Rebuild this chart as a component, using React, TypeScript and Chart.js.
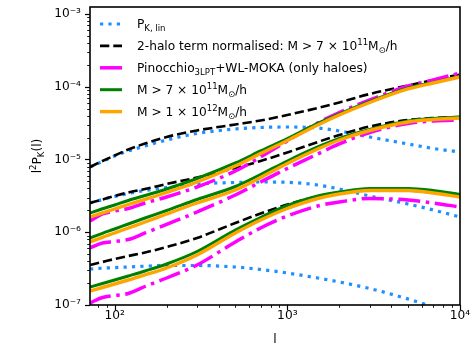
import React, { useEffect, useRef } from 'react';
import { Chart, registerables } from 'chart.js';
Chart.register(...registerables);

// multipole l
const ell = [72, 85, 100, 120, 150, 200, 300, 500, 700, 1000, 1500, 2000, 3000, 5000, 7000, 10000];

// linear convergence power spectrum (three source bins)
const pLin1 = [7.886e-6, 9.386e-6, 1.117e-5, 1.309e-5, 1.533e-5, 1.854e-5, 2.277e-5, 2.626e-5, 2.754e-5, 2.797e-5, 2.71e-5, 2.465e-5, 2.038e-5, 1.634e-5, 1.416e-5, 1.268e-5];
const pLin2 = [2.524e-6, 2.819e-6, 3.099e-6, 3.409e-6, 3.749e-6, 4.122e-6, 4.605e-6, 4.829e-6, 4.906e-6, 4.86e-6, 4.462e-6, 3.931e-6, 3.149e-6, 2.445e-6, 2.022e-6, 1.621e-6];
const pLin3 = [3.125e-7, 3.205e-7, 3.267e-7, 3.33e-7, 3.415e-7, 3.491e-7, 3.491e-7, 3.33e-7, 3.076e-7, 2.754e-7, 2.35e-7, 2.071e-7, 1.686e-7, 1.209e-7, 9.386e-8, 7.062e-8];

// 2-halo term normalised
const twoHalo1 = [7.886e-6, 9.537e-6, 1.135e-5, 1.372e-5, 1.659e-5, 2.038e-5, 2.504e-5, 3.028e-5, 3.437e-5, 4.09e-5, 5.104e-5, 6.074e-5, 7.948e-5, 1.04e-4, 1.238e-4, 1.474e-4];
const twoHalo2 = [2.524e-6, 2.819e-6, 3.149e-6, 3.519e-6, 3.931e-6, 4.605e-6, 5.657e-6, 7.641e-6, 9.537e-6, 1.248e-5, 1.74e-5, 2.172e-5, 2.841e-5, 3.491e-5, 3.719e-5, 3.839e-5];
const twoHalo3 = [3.546e-7, 3.9e-7, 4.289e-7, 4.716e-7, 5.267e-7, 6.27e-7, 8.337e-7, 1.34e-6, 1.81e-6, 2.406e-6, 3.099e-6, 3.463e-6, 3.809e-6, 3.749e-6, 3.519e-6, 3.099e-6];

// Pinocchio 3LPT + WL-MOKA (only haloes)
const pino1 = [1.427e-6, 1.782e-6, 1.96e-6, 2.121e-6, 2.524e-6, 3.051e-6, 4.188e-6, 6.948e-6, 1.082e-5, 1.796e-5, 3.174e-5, 4.426e-5, 6.574e-5, 1.024e-4, 1.238e-4, 1.545e-4];
const pino2 = [6.074e-7, 7.114e-7, 7.462e-7, 7.948e-7, 9.766e-7, 1.278e-6, 1.898e-6, 3.251e-6, 4.906e-6, 7.52e-6, 1.19e-5, 1.634e-5, 2.35e-5, 3.125e-5, 3.382e-5, 3.491e-5];
const pino3 = [1.065e-7, 1.268e-7, 1.351e-7, 1.439e-7, 1.796e-7, 2.35e-7, 3.546e-7, 7.345e-7, 1.144e-6, 1.673e-6, 2.295e-6, 2.605e-6, 2.91e-6, 2.775e-6, 2.524e-6, 2.224e-6];

// M > 7e11 Msun/h
const m7e11_1 = [1.839e-6, 2.1e-6, 2.369e-6, 2.732e-6, 3.2e-6, 3.931e-6, 5.48e-6, 8.952e-6, 1.309e-5, 1.944e-5, 3.125e-5, 4.221e-5, 6.27e-5, 9.612e-5, 1.144e-4, 1.383e-4];
const m7e11_2 = [8.337e-7, 9.674e-7, 1.108e-6, 1.298e-6, 1.57e-6, 1.991e-6, 2.819e-6, 4.255e-6, 6.219e-6, 9.537e-6, 1.485e-5, 1.944e-5, 2.585e-5, 3.382e-5, 3.661e-5, 3.839e-5];
const m7e11_3 = [1.768e-7, 1.975e-7, 2.206e-7, 2.504e-7, 2.934e-7, 3.661e-7, 5.437e-7, 1.074e-6, 1.595e-6, 2.332e-6, 3.149e-6, 3.575e-6, 3.994e-6, 3.994e-6, 3.749e-6, 3.303e-6];

// M > 1e12 Msun/h
const m1e12_1 = [1.621e-6, 1.851e-6, 2.087e-6, 2.406e-6, 2.819e-6, 3.519e-6, 4.906e-6, 8.14e-6, 1.209e-5, 1.825e-5, 2.98e-5, 4.09e-5, 6.074e-5, 9.314e-5, 1.126e-4, 1.361e-4];
const m1e12_2 = [7.345e-7, 8.524e-7, 9.766e-7, 1.144e-6, 1.383e-6, 1.782e-6, 2.524e-6, 3.809e-6, 5.657e-6, 8.81e-6, 1.394e-5, 1.854e-5, 2.504e-5, 3.277e-5, 3.546e-5, 3.719e-5];
const m1e12_3 = [1.557e-7, 1.74e-7, 1.944e-7, 2.206e-7, 2.585e-7, 3.226e-7, 4.867e-7, 9.766e-7, 1.474e-6, 2.121e-6, 2.91e-6, 3.356e-6, 3.749e-6, 3.749e-6, 3.463e-6, 3.051e-6];

// axis limits and tick labels
const xMin = 72;
const xMax = 10000;
const yMin = 1e-7;
const yMax = 1.247e-3;
const xTickLabels = ['10²', '10³', '10⁴'];
const yTickLabels = ['10⁻⁷', '10⁻⁶', '10⁻⁵', '10⁻⁴', '10⁻³'];

type Seg = { t: string; s?: 'sub' | 'sup' };
const legendLabels: Seg[][] = [
  [{ t: 'P' }, { t: 'K, lin', s: 'sub' }],
  [{ t: '2-halo term normalised: M > 7 × 10' }, { t: '11', s: 'sup' }, { t: 'M' }, { t: '⊙', s: 'sub' }, { t: '/h' }],
  [{ t: 'Pinocchio' }, { t: '3LPT', s: 'sub' }, { t: '+WL-MOKA (only haloes)' }],
  [{ t: 'M > 7 × 10' }, { t: '11', s: 'sup' }, { t: 'M' }, { t: '⊙', s: 'sub' }, { t: '/h' }],
  [{ t: 'M > 1 × 10' }, { t: '12', s: 'sup' }, { t: 'M' }, { t: '⊙', s: 'sub' }, { t: '/h' }],
];
const yTitle: Seg[] = [{ t: 'l' }, { t: '2', s: 'sup' }, { t: 'P' }, { t: 'K', s: 'sub' }, { t: '(l)' }];

const FONT = '"DejaVu Sans", sans-serif';
const FS = 12.2;

const STYLES = [
  { color: '#1E90FF', width: 3.2, dash: [3.2, 5.2], legendDash: [3.2, 5.2], order: 4 },
  { color: '#000000', width: 2.6, dash: [9.3, 4], legendDash: [9.3, 4], order: 3 },
  { color: '#FF00FF', width: 3.5, dash: [22, 5.6, 3.5, 5.6], legendDash: [], order: 2 },
  { color: '#008000', width: 3, dash: [], legendDash: [], order: 1 },
  { color: '#FFA500', width: 3.4, dash: [], legendDash: [], order: 0 },
];

function segFont(s: Seg, size: number) {
  return `${s.s ? size * 0.7 : size}px ${FONT}`;
}
function richWidth(ctx: CanvasRenderingContext2D, segs: Seg[], size: number) {
  let w = 0;
  for (const s of segs) {
    ctx.font = segFont(s, size);
    w += ctx.measureText(s.t).width;
  }
  return w;
}
function drawRich(ctx: CanvasRenderingContext2D, segs: Seg[], x: number, base: number, size: number) {
  let cx = x;
  ctx.textAlign = 'left';
  ctx.textBaseline = 'alphabetic';
  for (const s of segs) {
    ctx.font = segFont(s, size);
    const dy = s.s === 'sub' ? size * 0.22 : s.s === 'sup' ? -size * 0.42 : 0;
    ctx.fillText(s.t, cx, base + dy);
    cx += ctx.measureText(s.t).width;
  }
}

const decorPlugin = {
  id: 'decor',
  afterDraw(chart: any) {
    const ctx: CanvasRenderingContext2D = chart.ctx;
    const { left, right, top, bottom } = chart.chartArea;
    const xs = chart.scales.x;
    const ys = chart.scales.y;
    ctx.save();
    ctx.strokeStyle = '#000';
    // ticks
    for (let d = 1; d <= 4; d++) {
      for (let k = 1; k <= 9; k++) {
        const v = k * Math.pow(10, d);
        if (v < xMin || v > xMax * 1.0001) continue;
        const px = Math.round(xs.getPixelForValue(v)) + 0.5;
        const len = k === 1 ? 5 : 2.8;
        ctx.lineWidth = k === 1 ? 1.2 : 0.9;
        ctx.beginPath();
        ctx.moveTo(px, bottom);
        ctx.lineTo(px, bottom + len);
        ctx.stroke();
      }
    }
    for (let d = -8; d <= -3; d++) {
      for (let k = 1; k <= 9; k++) {
        const v = k * Math.pow(10, d);
        if (v < yMin * 0.9999 || v > yMax) continue;
        const py = Math.round(ys.getPixelForValue(v)) + 0.5;
        const len = k === 1 ? 5 : 2.8;
        ctx.lineWidth = k === 1 ? 1.2 : 0.9;
        ctx.beginPath();
        ctx.moveTo(left, py);
        ctx.lineTo(left - len, py);
        ctx.stroke();
      }
    }
    // frame
    ctx.lineWidth = 1.6;
    ctx.strokeRect(left, top, right - left, bottom - top);
    // y title
    ctx.fillStyle = '#000';
    ctx.save();
    ctx.translate(41, (top + bottom) / 2);
    ctx.rotate(-Math.PI / 2);
    const w = richWidth(ctx, yTitle, FS);
    drawRich(ctx, yTitle, -w / 2, 0, FS);
    ctx.restore();
    // legend
    const rowY0 = 24;
    const rowStep = 21.9;
    legendLabels.forEach((segs, i) => {
      const y = rowY0 + i * rowStep;
      const st = STYLES[i];
      ctx.save();
      ctx.strokeStyle = st.color;
      ctx.lineWidth = st.width;
      ctx.setLineDash(st.legendDash);
      ctx.lineCap = 'butt';
      ctx.beginPath();
      ctx.moveTo(100, y);
      ctx.lineTo(122, y);
      ctx.stroke();
      ctx.restore();
      ctx.fillStyle = '#000';
      drawRich(ctx, segs, 137, y + FS * 0.36, FS);
    });
    ctx.restore();
  },
};

function sup(n: number) {
  const map: Record<string, string> = { '-': '⁻', '0': '⁰', '1': '¹', '2': '²', '3': '³', '4': '⁴', '5': '⁵', '6': '⁶', '7': '⁷', '8': '⁸', '9': '⁹' };
  return String(n).split('').map((c) => map[c]).join('');
}

function zeroPad(s: any) {
  s.paddingTop = 0;
  s.paddingBottom = 0;
  s.paddingLeft = 0;
  s.paddingRight = 0;
}

export default function App() {
  const ref = useRef<HTMLCanvasElement | null>(null);
  useEffect(() => {
    if (!ref.current) return;
    const groups = [
      [pLin1, pLin2, pLin3],
      [twoHalo1, twoHalo2, twoHalo3],
      [pino1, pino2, pino3],
      [m7e11_1, m7e11_2, m7e11_3],
      [m1e12_1, m1e12_2, m1e12_3],
    ];
    const names = ['P_K,lin', '2-halo term normalised: M > 7e11 Msun/h', 'Pinocchio3LPT+WL-MOKA (only haloes)', 'M > 7e11 Msun/h', 'M > 1e12 Msun/h'];
    const datasets: any[] = [];
    groups.forEach((g, i) => {
      const st = STYLES[i];
      g.forEach((arr, j) => {
        datasets.push({
          label: `${names[i]} (${j + 1})`,
          data: ell.map((l, k) => ({ x: l, y: arr[k] })),
          borderColor: st.color,
          borderWidth: st.width,
          borderDash: st.dash,
          pointRadius: 0,
          fill: false,
          cubicInterpolationMode: 'monotone',
          order: st.order,
          clip: 0,
        });
      });
    });
    const labelCb = (labels: string[], exps: number[]) => (v: any) => {
      const e = Math.log10(Number(v));
      const r = Math.round(e);
      if (Math.abs(e - r) > 1e-6) return '';
      const idx = exps.indexOf(r);
      return idx >= 0 ? labels[idx] : '10' + sup(r);
    };
    const chart = new Chart(ref.current, {
      type: 'line',
      data: { datasets },
      plugins: [decorPlugin],
      options: {
        animation: false,
        responsive: false,
        events: [],
        layout: { padding: { top: 7, right: 14, left: 0, bottom: 0 } },
        plugins: { legend: { display: false }, tooltip: { enabled: false } },
        scales: {
          x: {
            type: 'logarithmic',
            min: xMin,
            max: xMax,
            grid: { display: false, drawTicks: false },
            border: { display: false },
            ticks: {
              autoSkip: false,
              maxRotation: 0,
              padding: 4,
              color: '#000',
              font: { family: FONT, size: FS },
              callback: labelCb(xTickLabels, [2, 3, 4]),
            },
            title: { display: true, text: 'l', color: '#000', font: { family: FONT, size: FS }, padding: { top: 0, bottom: 8 } },
            afterFit: (s: any) => { s.height = 50; zeroPad(s); },
          },
          y: {
            type: 'logarithmic',
            min: yMin,
            max: yMax,
            grid: { display: false, drawTicks: false },
            border: { display: false },
            ticks: {
              autoSkip: false,
              padding: 9,
              color: '#000',
              font: { family: FONT, size: FS },
              callback: labelCb(yTickLabels, [-7, -6, -5, -4, -3]),
            },
            afterFit: (s: any) => { s.width = 90; zeroPad(s); },
          },
        },
      } as any,
    });
    return () => chart.destroy();
  }, []);
  return (
    <div style={{ position: 'absolute', left: 0, top: 0, width: 474, height: 355, background: '#fff' }}>
      <canvas ref={ref} width={474} height={355} style={{ display: 'block' }} />
    </div>
  );
}
